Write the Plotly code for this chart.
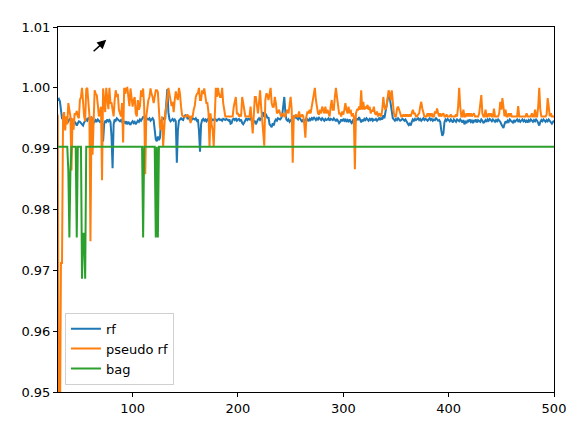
import plotly.graph_objects as go

# scores x 10000, one value per number of trees, starting at 25 trees
rf = [
    9980, 9978, 9975, 9978, 9980,
    9982, 9978, 9960, 9950, 9948, 9952, 9946, 9950, 9948, 9945,
    9948, 9950, 9947, 9943, 9940, 9944, 9942, 9938, 9943, 9945,
    9944, 9942, 9940, 9938, 9943, 9945, 9948, 9946, 9950, 9949,
    9948, 9951, 9949, 9946, 9944, 9947, 9945, 9948, 9946, 9944,
    9945, 9943, 9912, 9940, 9946, 9944, 9948, 9945, 9947, 9944,
    9920, 9868, 9940, 9948, 9946, 9950, 9948, 9947, 9945, 9947,
    9944, 9946, 9943, 9942, 9945, 9940, 9944, 9942, 9939, 9943,
    9945, 9942, 9944, 9940, 9943, 9946, 9944, 9948, 9946, 9949,
    9952, 9952, 9950, 9947, 9949, 9948, 9950, 9946, 9948, 9950,
    9947, 9930, 9915, 9912, 9920, 9914, 9918, 9946, 9948, 9950,
    9948, 9950, 9975, 9998, 9960, 9948, 9945, 9947, 9949, 9946,
    9948, 9945, 9877, 9930, 9946, 9948, 9950, 9948, 9947, 9953,
    9955, 9954, 9950, 9952, 9948, 9950, 9947, 9950, 9949, 9948,
    9950, 9946, 9948, 9930, 9895, 9940, 9947, 9949, 9946, 9948,
    9945, 9948, 9946, 9947, 9944, 9946, 9948, 9947, 9949, 9948,
    9946, 9948, 9949, 9947, 9948, 9946, 9949, 9948, 9947, 9949,
    9948, 9946, 9948, 9941, 9942, 9948, 9949, 9947, 9950, 9946,
    9948, 9949, 9945, 9948, 9942, 9940, 9943, 9948, 9950, 9947,
    9949, 9948, 9950, 9946, 9948, 9944, 9946, 9940, 9945, 9948,
    9950, 9947, 9949, 9955, 9960, 9952, 9958, 9955, 9950, 9952,
    9940, 9938, 9935, 9942, 9938, 9945, 9948, 9946, 9950, 9949,
    9948, 9950, 9955, 9970, 9985, 9960, 9948, 9946, 9948, 9944,
    9946, 9948, 9950, 9953, 9951, 9955, 9950, 9948, 9952, 9949,
    9946, 9944, 9948, 9945, 9947, 9950, 9948, 9945, 9949, 9947,
    9950, 9948, 9952, 9949, 9947, 9950, 9948, 9951, 9949, 9947,
    9950, 9948, 9946, 9949, 9947, 9948, 9950, 9946, 9949, 9948,
    9947, 9950, 9948, 9945, 9949, 9946, 9942, 9944, 9948, 9945,
    9948, 9946, 9949, 9944, 9947, 9945, 9948, 9944, 9942, 9946,
    9944, 9948, 9945, 9950, 9947, 9952, 9946, 9943, 9948, 9945,
    9949, 9947, 9950, 9948, 9946, 9949, 9947, 9950, 9946, 9948,
    9947, 9949, 9946, 9948, 9950, 9947, 9951, 9948, 9955, 9950,
    9960, 9970, 9985, 9990, 9985, 9975, 9960, 9950, 9948, 9946,
    9949, 9947, 9950, 9948, 9946, 9947, 9949, 9948, 9946, 9948,
    9945, 9943, 9939, 9941, 9938, 9944, 9948, 9946, 9949, 9947,
    9948, 9950, 9947, 9949, 9946, 9948, 9950, 9947, 9949, 9948,
    9946, 9948, 9950, 9947, 9949, 9946, 9948, 9947, 9950, 9948,
    9946, 9947, 9944, 9930, 9921, 9925, 9943, 9948, 9946, 9949,
    9947, 9945, 9948, 9946, 9943, 9948, 9946, 9944, 9948, 9947,
    9945, 9948, 9946, 9943, 9947, 9940, 9944, 9942, 9947, 9945,
    9948, 9944, 9946, 9942, 9947, 9945, 9948, 9943, 9947, 9946,
    9944, 9948, 9946, 9942, 9945, 9947, 9944, 9948, 9946, 9949,
    9947, 9945, 9948, 9946, 9944, 9947, 9945, 9948, 9946, 9944,
    9940, 9937, 9934, 9940, 9945, 9942, 9946, 9944, 9948, 9946,
    9945, 9943, 9947, 9944, 9946, 9948, 9945, 9947, 9944, 9946,
    9948, 9945, 9947, 9944, 9946, 9943, 9947, 9945, 9948, 9946,
    9944, 9947, 9945, 9948, 9946, 9942, 9938, 9944, 9947, 9945,
    9948, 9946, 9944, 9947, 9945, 9948, 9946, 9943, 9941, 9944,
    9946,
]

pseudo_rf = [
    9950, 9940, 9953, 9960, 9953,
    9400, 9420, 9712, 9712, 9953, 9960, 9930, 9953, 9940, 9975,
    9960, 9953, 9864, 9950, 9931, 9958, 9956, 9962, 9953, 9950,
    9980, 9985, 10000, 9969, 9953, 9945, 9998, 10000, 9975, 9955,
    9748, 9953, 9890, 9942, 9996, 9990, 9988, 9972, 9953, 9960,
    9969, 9848, 9999, 9980, 9960, 10000, 9975, 9965, 10000, 9975,
    9975, 9958, 9953, 9980, 9996, 9985, 9990, 9964, 9960, 9953,
    9975, 9910, 10000, 9990, 9999, 10000, 9985, 9970, 9999, 9985,
    9969, 9980, 9985, 9958, 9953, 9980, 9964, 9970, 9996, 9985,
    9999, 9969, 9858, 9953, 9969, 9980, 9985, 9999, 9990, 9985,
    9975, 9990, 9996, 9996, 9993, 9964, 9935, 9931, 9953, 9904,
    9940, 9960, 9969, 9985, 10000, 9990, 9975, 9970, 9977, 9960,
    9980, 9994, 9985, 9980, 10000, 9990, 9969, 9955, 9953, 9953,
    9953, 9953, 9956, 9953, 9953, 9942, 9953, 9953, 9964, 9970,
    9985, 9990, 9991, 10000, 9980, 9980, 9996, 9990, 9999, 9988,
    9975, 9975, 9960, 9904, 9958, 9940, 9931, 9904, 9953, 10000,
    9985, 10000, 9990, 9985, 9985, 10000, 9975, 9958, 9953, 9953,
    9953, 9953, 9953, 9953, 9953, 9953, 9969, 9980, 9985, 9958,
    9958, 9953, 9956, 9953, 9985, 9975, 9958, 9953, 9953, 9953,
    9953, 9953, 9969, 9940, 9925, 9953, 9985, 9985, 9964, 9958,
    9975, 9996, 9969, 9950, 9930, 9905, 9980, 9991, 9988, 9980,
    9990, 10000, 9975, 9969, 9969, 9985, 9975, 9958, 9960, 9964,
    9958, 9953, 9956, 9958, 9953, 9953, 9960, 9964, 9958, 9975,
    9985, 9965, 9877, 9953, 9953, 9956, 9953, 9953, 9961, 9953,
    9953, 9956, 9953, 9940, 9918, 9953, 9961, 9958, 9964, 9958,
    9969, 9980, 9985, 10000, 9980, 9969, 9958, 9956, 9964, 9958,
    9969, 9964, 9958, 9969, 9958, 9964, 9958, 9953, 9969, 9980,
    9964, 9964, 9985, 10000, 9985, 9969, 9958, 9958, 9953, 9961,
    9956, 9964, 9975, 9964, 9958, 9969, 9958, 9964, 9953, 9958,
    9953, 9866, 9958, 9964, 9964, 9969, 9964, 9996, 9964, 9977,
    9964, 9969, 9966, 9972, 9964, 9969, 9958, 9964, 9961, 9969,
    9958, 9956, 9961, 9953, 9958, 9956, 9953, 9964, 9985, 9969,
    9964, 9969, 9980, 9996, 9991, 9980, 9996, 9975, 9958, 9953,
    9953, 9966, 9969, 9964, 9958, 9953, 9953, 9956, 9953, 9956,
    9953, 9956, 9953, 9956, 9953, 9958, 9964, 9958, 9958, 9953,
    9953, 9956, 9958, 9969, 9977, 9966, 9958, 9953, 9953, 9953,
    9958, 9953, 9958, 9953, 9958, 9953, 9953, 9961, 9958, 9966,
    9958, 9953, 9958, 9953, 9956, 9958, 9953, 9953, 9956, 9953,
    9953, 9953, 9956, 9953, 9953, 9953, 9953, 9956, 9953, 9969,
    10000, 9969, 9953, 9953, 9964, 9953, 9953, 9958, 9953, 9958,
    9953, 9958, 9953, 9956, 9958, 9953, 9953, 9953, 9953, 9958,
    9975, 9988, 9958, 9953, 9953, 9964, 9953, 9953, 9958, 9953,
    9958, 9953, 9953, 9966, 9953, 9953, 9953, 9953, 9958, 9977,
    9964, 9983, 9969, 9953, 9964, 9953, 9953, 9958, 9953, 9958,
    9953, 9953, 9953, 9953, 9953, 9953, 9970, 9953, 9953, 9953,
    9953, 9953, 9953, 9953, 9958, 9953, 9953, 9953, 9953, 9958,
    9953, 9953, 9964, 9953, 9953, 9969, 10000, 9964, 9953, 9953,
    9953, 9953, 9953, 9956, 9983, 9969, 9953, 9958, 9953, 9953,
    9953,
]

# bag is flat apart from a few drops, so only the corners are listed
bag_trees = [25, 38, 39, 40, 41, 42, 46, 47, 48, 51, 52, 53, 54, 55, 56,
             109, 110, 111, 121, 122, 123, 124, 125, 500]
bag = [9903, 9903, 9864, 9754, 9864, 9903, 9903, 9754, 9903, 9903, 9686, 9760, 9760, 9686, 9903,
       9903, 9754, 9903, 9903, 9754, 9903, 9754, 9903, 9903]

x_range = [29.2, 500]
y_range = [0.95, 1.01]
y_ticks = [0.95, 0.96, 0.97, 0.98, 0.99, 1.00, 1.01]
x_ticks = [100, 200, 300, 400, 500]

series = [
    ("rf", list(range(25, 25 + len(rf))), rf, "#1f77b4"),
    ("pseudo rf", list(range(25, 25 + len(pseudo_rf))), pseudo_rf, "#ff7f0e"),
    ("bag", bag_trees, bag, "#2ca02c"),
]

fig = go.Figure()
for name, xs, ys, color in series:
    fig.add_trace(go.Scatter(
        x=xs,
        y=[v / 10000 for v in ys],
        mode="lines",
        name=name,
        line=dict(color=color, width=2),
    ))

axis = dict(
    showline=True, mirror=True, linecolor="black", linewidth=1,
    ticks="outside", ticklen=4, tickcolor="black",
    showgrid=False, zeroline=False,
    tickfont=dict(family="DejaVu Sans", size=13, color="black"),
)

# the page puts the figure 8px in from the top left, margins allow for that
fig.update_layout(
    width=585,
    height=426,
    margin=dict(l=50, r=39, t=14, b=42),
    paper_bgcolor="white",
    plot_bgcolor="white",
    xaxis=dict(axis, range=x_range, tickvals=x_ticks),
    yaxis=dict(axis, range=y_range, tickvals=y_ticks, tickformat=".2f"),
    legend=dict(
        x=0.014, y=0.02, xanchor="left", yanchor="bottom",
        bgcolor="rgba(255,255,255,0.8)", bordercolor="#d0d0d0", borderwidth=1,
        font=dict(family="DejaVu Sans", size=13, color="black"),
    ),
    annotations=[dict(
        x=75, y=1.0079, ax=61.6, ay=1.0058, xref="x", yref="y", axref="x", ayref="y",
        text="", showarrow=True, arrowhead=2, arrowsize=1.2, arrowwidth=1.5, arrowcolor="black",
    )],
)

fig.write_html("out.html")
